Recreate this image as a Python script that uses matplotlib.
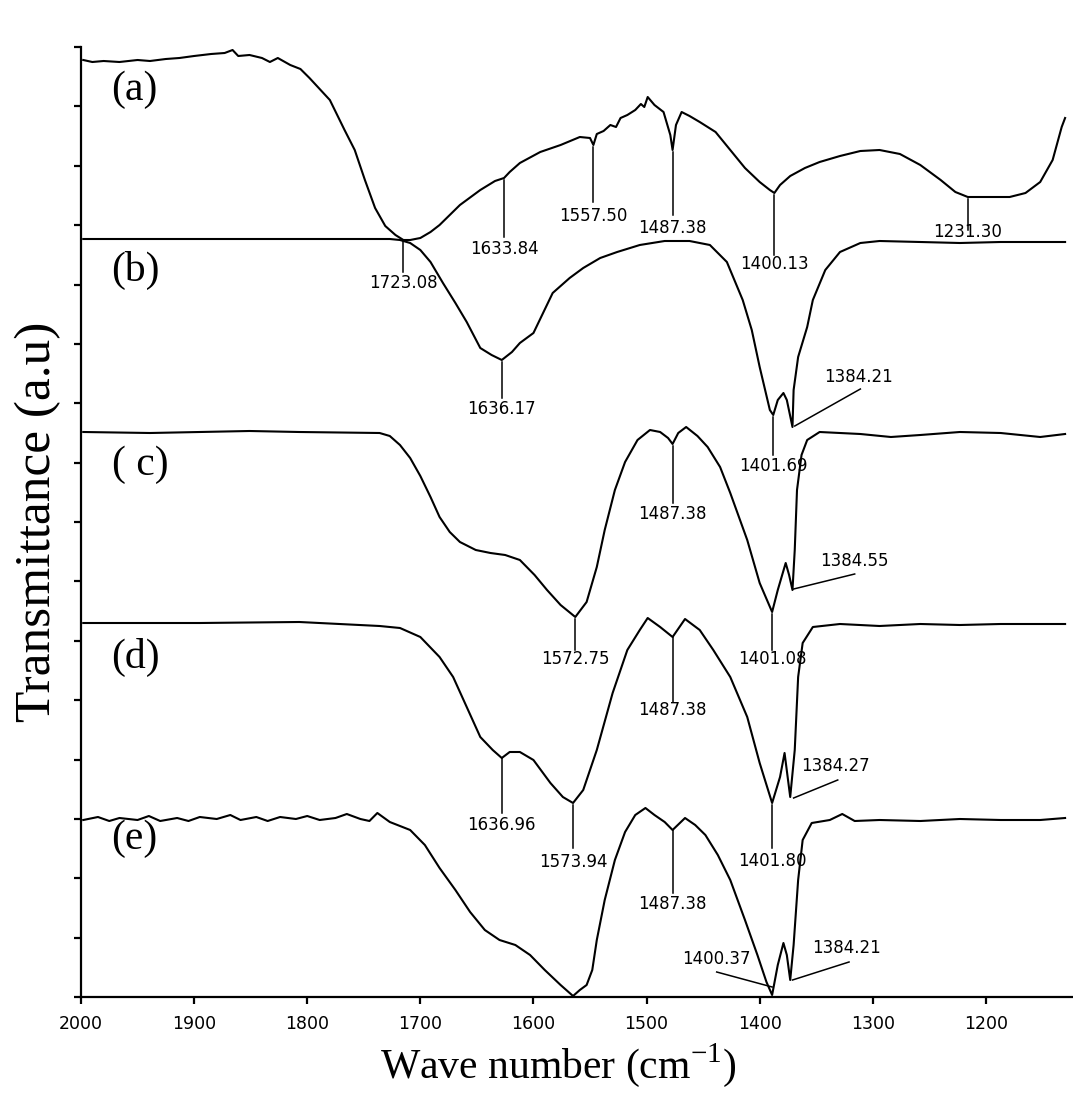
import numpy as np
import matplotlib.pyplot as plt

# FTIR spectra (a)-(e) (stacked, arbitrary units)
wn_a = [1998, 1990, 1980, 1966, 1950, 1939, 1925, 1913, 1900, 1885, 1873, 1866, 1861, 1851,
        1840, 1833, 1826, 1815, 1806, 1798, 1780, 1767, 1758,
        1749, 1740, 1731, 1722, 1715, 1709, 1700, 1691, 1683, 1665, 1647, 1634, 1626, 1621,
        1612, 1594, 1576, 1559, 1550, 1547, 1544, 1538, 1532, 1527, 1523, 1517, 1510, 1505,
        1502, 1499, 1493, 1485, 1479,
        1477, 1474, 1469, 1462, 1453, 1439, 1426, 1413, 1400, 1391, 1387, 1382, 1373, 1360,
        1347, 1329, 1311, 1294, 1276, 1258, 1240, 1227, 1216, 1196, 1179, 1165, 1152, 1141,
        1133, 1130]
tr_a = [937, 935, 936, 935, 937, 936, 938, 939, 941, 943, 944, 947, 941, 942,
        939, 935, 939, 932, 928, 919, 897, 867, 847,
        817, 789, 771, 762, 757, 757, 759, 765, 772, 792, 807, 816, 819, 825,
        834, 845, 852, 860, 859, 852, 863, 866, 872, 870, 879, 882, 887, 893,
        890, 900, 892, 885, 862,
        847, 872, 885, 881, 875, 865, 847, 829, 815, 807, 804, 812, 821, 829,
        835, 841, 846, 847, 843, 832, 817, 805, 800, 800, 800, 804, 815, 837,
        870, 879]

wn_b = [1998, 1895, 1727, 1718, 1709, 1700, 1691, 1680, 1669, 1659, 1647, 1637, 1628, 1619,
        1612, 1600, 1583, 1568, 1556, 1541, 1526, 1506, 1484, 1462, 1444, 1429, 1415, 1407,
        1400, 1391, 1388, 1384, 1379, 1376, 1371, 1370, 1366, 1358, 1353, 1342, 1329, 1311,
        1294, 1258, 1223, 1187, 1130]
tr_b = [758, 758, 758, 757, 754, 747, 735, 714, 694, 675, 649, 642, 637, 645,
        654, 664, 704, 719, 729, 739, 745, 752, 756, 756, 752, 735, 697, 667,
        630, 587, 582, 597, 604, 597, 570, 607, 640, 670, 697, 727, 745, 754,
        756, 755, 754, 755, 755]

wn_c = [1998, 1939, 1851, 1807, 1736, 1727, 1718, 1709, 1700, 1691, 1683, 1674, 1665, 1651,
        1638, 1625, 1612, 1599, 1588, 1576, 1563, 1553, 1544, 1537, 1528, 1519, 1508, 1497,
        1488, 1481, 1477, 1472, 1465, 1455, 1446, 1435, 1426, 1411, 1400, 1389, 1384, 1377,
        1374, 1371, 1369, 1367, 1363, 1358, 1347, 1311, 1284, 1258, 1223, 1187, 1152, 1130]
tr_c = [565, 564, 566, 565, 564, 561, 552, 539, 521, 500, 480, 465, 455, 447,
        444, 442, 437, 422, 407, 392, 380, 395, 430, 467, 507, 535, 557, 567,
        565, 559, 553, 564, 570, 561, 550, 530, 504, 457, 414, 385, 407, 434,
        422, 407, 447, 507, 542, 557, 565, 563, 560, 562, 565, 564, 560, 563]

wn_d = [1998, 1895, 1807, 1736, 1718, 1700, 1683, 1671, 1659, 1647, 1636, 1628, 1621, 1612,
        1600, 1585, 1574, 1565, 1556, 1544, 1530, 1517, 1506, 1499, 1488, 1477, 1466, 1453,
        1441, 1426, 1411, 1400, 1389, 1382, 1378, 1373, 1369, 1366, 1362, 1353, 1329, 1294,
        1258, 1223, 1187, 1130]
tr_d = [374, 374, 375, 371, 369, 360, 340, 320, 290, 260, 247, 239, 245, 245,
        237, 214, 200, 194, 207, 247, 304, 347, 367, 379, 370, 360, 378, 367,
        347, 320, 280, 234, 194, 220, 244, 200, 247, 320, 354, 370, 373, 371,
        373, 372, 373, 373]

wn_e = [1998, 1985, 1975, 1966, 1950, 1940, 1930, 1915, 1905, 1895, 1880, 1868, 1859, 1845,
        1835, 1824, 1810, 1800, 1789, 1775, 1765, 1753, 1745, 1738, 1727, 1709, 1696, 1683,
        1669, 1656, 1643, 1630, 1616, 1603, 1590, 1576, 1565, 1559, 1553, 1548, 1544, 1537,
        1528, 1519, 1510, 1501, 1493, 1484, 1477, 1466, 1457, 1448, 1437, 1426, 1413, 1402,
        1394, 1389, 1384, 1379, 1376, 1373, 1370, 1366, 1362, 1354, 1338, 1327, 1316, 1294,
        1258, 1223, 1187, 1152, 1130]
tr_e = [177, 180, 176, 179, 177, 181, 176, 179, 176, 180, 178, 182, 177, 180,
        176, 180, 178, 181, 177, 179, 183, 178, 176, 184, 175, 167, 152, 129,
        107, 85, 67, 57, 52, 42, 27, 12, 1, 7, 12, 27, 57, 97,
        137, 165, 182, 189, 182, 175, 167, 179, 172, 162, 142, 117, 77, 42,
        15, 2, 32, 54, 42, 17, 52, 117, 157, 174, 177, 183, 176, 177,
        176, 178, 177, 177, 179]

panel_names = ["(a)", "(b)", "( c)", "(d)", "(e)"]

serif = ['Liberation Serif', 'DejaVu Serif']

fig = plt.figure(figsize=(10.73, 10.96), dpi=100)
ax = fig.add_axes([81 / 1073, 99 / 1096, 992 / 1073, 950 / 1096])

for wn, tr in [(wn_a, tr_a), (wn_b, tr_b), (wn_c, tr_c), (wn_d, tr_d), (wn_e, tr_e)]:
    ax.plot(wn, tr, color='black', lw=1.5)

ax.set_xlim(2000, 1123)
ax.set_ylim(0, 950)
ax.spines[['top', 'right']].set_visible(False)
ax.spines[['left', 'bottom']].set_linewidth(1.6)
ax.set_xticks(np.arange(2000, 1199, -100))
ax.set_yticks(np.linspace(0, 950, 17))
ax.set_yticklabels([])
ax.tick_params(direction='out', length=5, width=1.6, labelsize=12.5, pad=8)

# peak markers: vertical lines + labels
vlines = [  # label, x, y0, y1, y_text
    ("1723.08", 1715, 757, 725, 714),
    ("1633.84", 1626, 817, 760, 748),
    ("1557.50", 1547, 850, 795, 781),
    ("1487.38", 1477, 845, 782, 769),
    ("1400.13", 1387, 802, 742, 733),
    ("1231.30", 1216, 798, 767, 765),
    ("1636.17", 1628, 635, 599, 588),
    ("1401.69", 1388, 580, 542, 531),
    ("1487.38", 1477, 551, 494, 483),
    ("1572.75", 1563, 378, 347, 338),
    ("1401.08", 1389, 383, 347, 338),
    ("1636.96", 1628, 239, 184, 172),
    ("1573.94", 1565, 192, 149, 135),
    ("1487.38", 1477, 360, 295, 287),
    ("1401.80", 1389, 192, 149, 136),
    ("1487.38", 1477, 167, 104, 93),
]
for lab, x, y0, y1, yt in vlines:
    ax.plot([x, x], [y0, y1], color='black', lw=1.1)
    ax.text(x, yt, lab, ha='center', va='center', fontsize=12)

slanted = [  # label, x0, y0, x1, y1, x_text, y_text
    ("1384.21", 1369, 571, 1311, 608, 1313, 620),
    ("1384.55", 1370, 408, 1316, 423, 1316, 436),
    ("1384.27", 1370, 199, 1331, 217, 1333, 231),
    ("1400.37", 1389, 10, 1438, 25, 1438, 38),
    ("1384.21", 1371, 17, 1321, 35, 1323, 49),
]
for lab, x0, y0, x1, y1, xt, yt in slanted:
    ax.plot([x0, x1], [y0, y1], color='black', lw=1.1)
    ax.text(xt, yt, lab, ha='center', va='center', fontsize=12)

panel_y = [907, 727, 532, 340, 158]
for name, y in zip(panel_names, panel_y):
    ax.text(1973, y, name, ha='left', va='center', fontsize=30, family=serif)

fig.text(558 / 1073, 18 / 1096, "Wave number (cm$^{\\mathregular{-1}}$)", ha='center',
         va='baseline', fontsize=30, family=serif)
fig.text(38 / 1073, 574 / 1096, "Transmittance (a.u)", ha='center', va='center',
         rotation=90, fontsize=37, family=serif)

fig.savefig('out.png', dpi=100)
